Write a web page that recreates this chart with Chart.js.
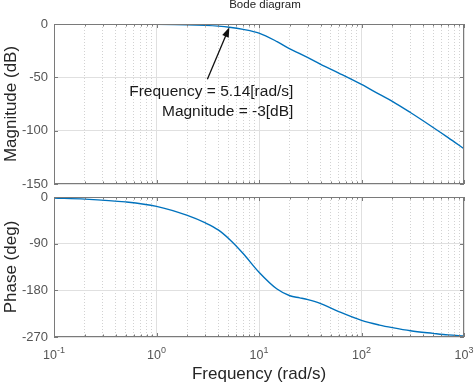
<!DOCTYPE html>
<html>
<head>
<meta charset="utf-8">
<script src="https://cdn.jsdelivr.net/npm/chart.js@4.4.0/dist/chart.umd.min.js"></script>
<style>
  body { margin: 0; background: #fff; }
  #wrap { position: relative; width: 474px; height: 386px; }
  .box { position: absolute; left: 0; width: 474px; }
</style>
</head>
<body>
<div id="wrap">
  <div class="box" style="top:0;height:192px"><canvas id="magChart"></canvas></div>
  <div class="box" style="top:190px;height:196px"><canvas id="phaseChart"></canvas></div>
</div>
<script>
// values
const freq = [0.1, 0.2, 0.5, 1, 2, 3, 4, 5.14, 7, 10, 15, 20, 25, 30, 40, 60, 100, 150, 200, 300, 500, 700, 1000];
const magDb = [0, -0.02, -0.1, -0.25, -0.7, -1.3, -2.0, -3, -5, -8.5, -16.5, -23.3, -27.8, -31.6, -37.8, -46, -56.7, -66, -72.5, -83, -97, -106.5, -117];
const phaseDeg = [-2, -4, -9.5, -18, -35.5, -50, -63.5, -81.5, -109, -145, -177.5, -190.5, -194.5, -198, -205.5, -221, -238, -247, -252, -258, -263, -266, -268];
const decades = [0.1, 1, 10, 100, 1000];
const decadeExp = ['-1', '0', '1', '2', '3'];
const magTicks = [0, -50, -100, -150];
const phaseTicks = [0, -90, -180, -270];
const marker = { freq: 5.14, mag: -3 };

const FONT = "'Liberation Sans', Arial, sans-serif";
const boxColor = '#7a7a7a';
const lineColor = '#0072BD';

function logTicks() {
  const t = [];
  decades.forEach((d, i) => {
    if (i === decades.length - 1) { t.push({ value: d, major: true }); return; }
    for (let k = 1; k <= 9; k++) t.push({ value: +(d * k).toPrecision(3), major: k === 1 });
  });
  return t;
}

function xScales(height) {
  return {
    x: {
      type: 'logarithmic', min: 0.1, max: 1000,
      afterBuildTicks: s => { s.ticks = logTicks(); },
      afterFit: s => { s.height = height; s.paddingLeft = 0; s.paddingRight = 0; },
      ticks: { display: false, autoSkip: false },
      grid: { drawTicks: false, color: c => c.tick && c.tick.major ? '#e0e0e0' : 'rgba(0,0,0,0)' },
      border: { display: false }
    },
    xm: {
      type: 'logarithmic', min: 0.1, max: 1000, position: 'bottom',
      afterBuildTicks: s => { s.ticks = logTicks(); },
      afterFit: s => { s.height = 0; s.paddingLeft = 0; s.paddingRight = 0; },
      ticks: { display: false, autoSkip: false },
      grid: { drawTicks: false, color: c => c.tick && !c.tick.major ? '#d2d2d2' : 'rgba(0,0,0,0)' },
      border: { display: false, dash: [1, 2] }
    }
  };
}

function yScale(min, max, step, ticksList, title) {
  return {
    min: min, max: max,
    afterBuildTicks: s => { s.ticks = ticksList.map(v => ({ value: v })); },
    afterFit: s => { s.width = 54; s.paddingTop = 0; s.paddingBottom = 0; },
    ticks: { color: '#555', font: { family: FONT, size: 13 }, padding: 6, stepSize: step },
    grid: { drawTicks: false, color: '#e0e0e0' },
    border: { display: false },
    title: { display: true, text: title, color: '#262626', font: { family: FONT, size: 17 }, padding: { top: 1, bottom: 0 } }
  };
}

// axes box and inward tick marks, MATLAB style
const frame = {
  id: 'frame',
  afterDatasetsDraw(chart) {
    const { ctx, chartArea: a, scales } = chart;
    ctx.save();
    ctx.strokeStyle = boxColor;
    ctx.lineWidth = 1;
    ctx.strokeRect(a.left + 0.5, a.top + 0.5, a.right - a.left - 1, a.bottom - a.top - 1);
    ctx.beginPath();
    scales.x.ticks.forEach(t => {
      const px = Math.round(scales.x.getPixelForValue(t.value)) + 0.5;
      const len = t.major ? 4 : 2.5;
      ctx.moveTo(px, a.bottom); ctx.lineTo(px, a.bottom - len);
      ctx.moveTo(px, a.top); ctx.lineTo(px, a.top + len);
    });
    scales.y.ticks.forEach(t => {
      const py = Math.round(scales.y.getPixelForValue(t.value)) + 0.5;
      ctx.moveTo(a.left, py); ctx.lineTo(a.left + 4, py);
      ctx.moveTo(a.right, py); ctx.lineTo(a.right - 4, py);
    });
    ctx.stroke();
    ctx.restore();
  }
};

const magNotes = {
  id: 'magNotes',
  afterDraw(chart) {
    const { ctx, chartArea: a, scales } = chart;
    ctx.save();
    ctx.fillStyle = '#222';
    ctx.font = '11.5px ' + FONT;
    ctx.textAlign = 'center';
    ctx.textBaseline = 'middle';
    ctx.fillText('Bode diagram', (a.left + a.right) / 2 + 6, 5);

    const hx = scales.x.getPixelForValue(marker.freq);
    const hy = scales.y.getPixelForValue(marker.mag);
    const tx = hx - 22, ty = hy + 52;
    const ang = Math.atan2(hy - ty, hx - tx);
    ctx.strokeStyle = '#111';
    ctx.lineWidth = 1.3;
    ctx.beginPath();
    ctx.moveTo(tx, ty);
    ctx.lineTo(hx - 8 * Math.cos(ang), hy - 8 * Math.sin(ang));
    ctx.stroke();
    ctx.fillStyle = '#111';
    ctx.beginPath();
    ctx.moveTo(hx, hy);
    ctx.lineTo(hx - 10 * Math.cos(ang) + 3.5 * Math.sin(ang), hy - 10 * Math.sin(ang) - 3.5 * Math.cos(ang));
    ctx.lineTo(hx - 10 * Math.cos(ang) - 3.5 * Math.sin(ang), hy - 10 * Math.sin(ang) + 3.5 * Math.cos(ang));
    ctx.closePath();
    ctx.fill();

    ctx.fillStyle = '#1a1a1a';
    ctx.font = '15.5px ' + FONT;
    ctx.textAlign = 'right';
    ctx.fillText('Frequency = ' + marker.freq + '[rad/s]', tx + 86, ty + 13);
    ctx.fillText('Magnitude = ' + marker.mag + '[dB]', tx + 86, ty + 33);
    ctx.restore();
  }
};

// x tick labels as 10 with a raised exponent
const decadeLabels = {
  id: 'decadeLabels',
  afterDraw(chart) {
    const { ctx, chartArea: a, scales } = chart;
    ctx.save();
    ctx.fillStyle = '#555';
    ctx.textBaseline = 'middle';
    decades.forEach((d, i) => {
      const px = scales.x.getPixelForValue(d);
      ctx.font = '12.5px ' + FONT;
      const w1 = ctx.measureText('10').width;
      ctx.font = '9px ' + FONT;
      const w2 = ctx.measureText(decadeExp[i]).width;
      const x0 = px - (w1 + w2) / 2;
      ctx.textAlign = 'left';
      ctx.font = '12.5px ' + FONT;
      ctx.fillText('10', x0, a.bottom + 19);
      ctx.font = '9px ' + FONT;
      ctx.fillText(decadeExp[i], x0 + w1, a.bottom + 14);
    });
    ctx.restore();
  }
};

function lineData(ys) {
  return {
    datasets: [{
      data: freq.map((f, i) => ({ x: f, y: ys[i] })),
      borderColor: lineColor,
      borderWidth: 1.4,
      pointRadius: 0,
      cubicInterpolationMode: 'monotone',
      fill: false
    }]
  };
}

const common = {
  responsive: true,
  maintainAspectRatio: false,
  animation: false,
  plugins: { legend: { display: false }, tooltip: { enabled: false } }
};

new Chart(document.getElementById('magChart'), {
  type: 'line',
  data: lineData(magDb),
  options: Object.assign({}, common, {
    layout: { padding: { top: 24, right: 10, bottom: 8, left: 0 } },
    scales: Object.assign(xScales(0), { y: yScale(-150, 0, 50, magTicks, 'Magnitude (dB)') })
  }),
  plugins: [frame, magNotes]
});

const xs2 = xScales(49);
xs2.x.title = { display: true, text: 'Frequency (rad/s)', color: '#262626', font: { family: FONT, size: 17 }, padding: { top: 0, bottom: 1 } };

new Chart(document.getElementById('phaseChart'), {
  type: 'line',
  data: lineData(phaseDeg),
  options: Object.assign({}, common, {
    layout: { padding: { top: 7, right: 10, bottom: 0, left: 0 } },
    scales: Object.assign(xs2, { y: yScale(-270, 0, 90, phaseTicks, 'Phase (deg)') })
  }),
  plugins: [frame, decadeLabels]
});
</script>
</body>
</html>
